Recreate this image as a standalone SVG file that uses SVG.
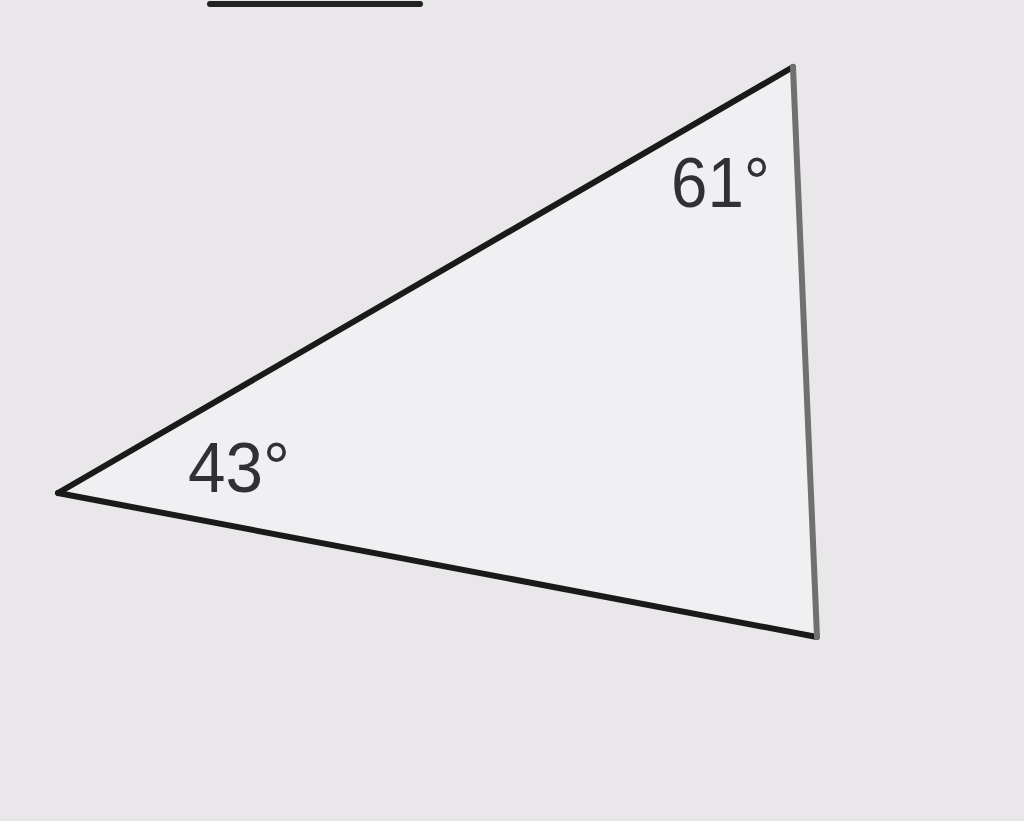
<svg xmlns="http://www.w3.org/2000/svg" width="1024" height="821" viewBox="0 0 1024 821">
<style>
.lbl{font-family:"Liberation Sans","DejaVu Sans",sans-serif;font-size:70px;fill:#333033}
.edge{stroke:#1a1a1a;stroke-width:6;stroke-linecap:round;fill:none}
</style>
<rect width="1024" height="821" fill="#e9e7ea"/>
<line x1="210" y1="4" x2="420" y2="4" stroke="#222" stroke-width="6" stroke-linecap="round"/>
<g id="triangle">
<polygon points="58,493 793,67 817,637" fill="#f0eff1" stroke="none"/>
<line class="edge" x1="58" y1="493" x2="793" y2="67"/>
<line class="edge" x1="58" y1="493" x2="817" y2="637"/>
<line class="edge" x1="793" y1="67" x2="817" y2="637" style="stroke:#707070"/>
</g>
<g id="label-61"><text class="lbl" x="671" y="207" textLength="99" lengthAdjust="spacingAndGlyphs">61°</text></g>
<g id="label-43"><text class="lbl" x="188" y="492" textLength="102" lengthAdjust="spacingAndGlyphs">43°</text></g>
</svg>
